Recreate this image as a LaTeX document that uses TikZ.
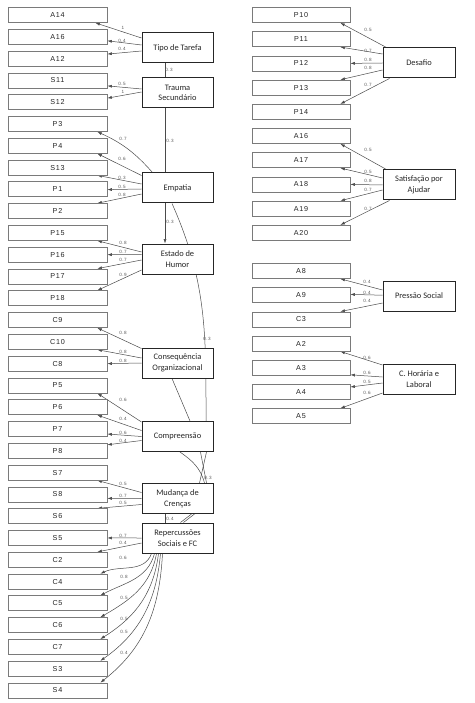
\documentclass[tikz,border=0pt]{standalone}
\usepackage{fontspec}
\setmainfont{Carlito}
\newfontfamily\indfont[LetterSpace=10]{Liberation Sans}
\newfontfamily\labfont[LetterSpace=12]{Liberation Sans}
\usetikzlibrary{arrows.meta,calc}
\pgfdeclarelayer{back}
\pgfdeclarelayer{wires}
\pgfsetlayers{back,wires,main}
\definecolor{boxgray}{HTML}{7A7A7A}
\definecolor{linegray}{HTML}{4A4A4A}
\definecolor{txtgray}{HTML}{262626}
\definecolor{labgray}{HTML}{585858}
\tikzset{
  ind/.style={draw=boxgray, line width=0.7pt, fill=white, minimum width=99pt, minimum height=15pt, inner sep=0pt, font=\indfont\fontsize{7.2}{8}\selectfont, text=txtgray},
  indr/.style={ind, minimum width=98pt},
  lat/.style={draw=black!85, line width=1pt, fill=white, minimum width=71pt, minimum height=30pt, inner sep=0pt, align=center, font=\fontsize{8.4}{10.6}\selectfont, text=black!85},
  latr/.style={lat, minimum width=72pt},
  ar/.style={draw=linegray, line width=0.5pt, -{Latex[length=4.5pt,width=3pt]}},
  ln/.style={draw=linegray, line width=0.5pt},
  lbl/.style={font=\labfont\fontsize{4.6}{5}\selectfont, text=labgray, inner sep=0pt}
}
\begin{document}
\begin{tikzpicture}[x=1pt,y=-1pt]
\begin{pgfonlayer}{back}
\fill[white] (0,0) rectangle (474,703);
\end{pgfonlayer}
\useasboundingbox (0,0) rectangle (474,703);
% left indicators
\foreach \n [count=\i from 0] in {A14,A16,A12,S11,S12,P3,P4,S13,P1,P2,P15,P16,P17,P18,C9,C10,C8,P5,P6,P7,P8,S7,S8,S6,S5,C2,C4,C5,C6,C7,S3,S4}
  \node[ind] (L\n) at (57.5,{15+21.79*\i}) {\n};
% right indicators
\foreach \n [count=\i from 0] in {P10,P11,P12,P13,P14,A16,A17,A18,A19,A20}
  \node[indr] (R\n) at (301,{15+24.2*\i}) {\n};
\foreach \n [count=\i from 0] in {A8,A9,C3,A2,A3,A4,A5}
  \node[indr] (R\n) at (301,{271+24.2*\i}) {\n};
% latent boxes
\node[lat] (T) at (177.5,48) {Tipo de Tarefa};
\node[lat] (Tr) at (177.5,93) {Trauma\\Secundário};
\node[lat] (E) at (177.5,188) {Empatia};
\node[lat] (H) at (177.5,259) {Estado de\\Humor};
\node[lat] (CO) at (177.5,363) {Consequência\\Organizacional};
\node[lat] (CP) at (177.5,436.5) {Compreensão};
\node[lat] (M) at (177.5,498.5) {Mudança de\\Crenças};
\node[lat] (R) at (177.5,538) {Repercussões\\Sociais e FC};
\node[latr] (D) at (419,63) {Desafio};
\node[latr] (SA) at (419,185) {Satisfação por\\Ajudar};
\node[latr] (PS) at (419,296) {Pressão Social};
\node[latr] (CH) at (419,379) {C. Horária e\\Laboral};
\begin{pgfonlayer}{wires}
% Tipo de Tarefa
\draw[ar] ([yshift=10pt]T.west) -- ([xshift=-12pt]LA14.south east);
\draw[ar] ([yshift=3pt]T.west) -- ([yshift=-4pt]LA16.east);
\draw[ar] ([yshift=-3pt]T.west) -- ([yshift=4.5pt]LA12.east);
% Trauma
\draw[ar] ([yshift=4pt]Tr.west) -- ([yshift=-5.5pt]LS11.east);
\draw[ar] ([yshift=1pt]Tr.west) -- ([yshift=4pt]LS12.east);
% Empatia
\draw[ar] ([xshift=11pt]E.north west) to[bend right=12] ([xshift=-10pt]LP3.south east);
\draw[ar] ([yshift=-3pt]E.north west) -- ([xshift=-10pt]LP4.south east);
\draw[ar] ([yshift=4pt]E.west) -- ([xshift=-10pt]LS13.south east);
\draw[ar] ([yshift=-1pt]E.west) -- ([yshift=-0.3pt]LP1.east);
\draw[ar] ([yshift=-6pt]E.west) -- ([xshift=-10pt]LP2.north east);
% Estado de Humor
\draw[ar] ([yshift=7pt]H.west) -- ([xshift=-10pt]LP15.south east);
\draw[ar] ([yshift=4.5pt]H.west) -- (LP16.east);
\draw[ar] ([yshift=-1pt]H.west) -- ([xshift=-10pt]LP17.north east);
\draw[ar] ([yshift=-11pt]H.west) -- ([xshift=-10pt]LP18.north east);
% Consequencia
\draw[ar] ([yshift=-1pt]CO.north west) -- ([xshift=-10pt]LC9.south east);
\draw[ar] ([yshift=5pt]CO.west) -- ([xshift=-10pt]LC10.south east);
\draw[ar] (CO.west) -- (LC8.east);
% Compreensao
\draw[ar] ([yshift=-1pt]CP.north west) -- ([xshift=-10pt]LP5.south east);
\draw[ar] ([yshift=6pt]CP.west) -- ([xshift=-10pt]LP6.south east);
\draw[ar] ([yshift=0pt]CP.west) -- ([yshift=-5pt]LP7.east);
\draw[ar] ([yshift=-4pt]CP.west) -- ([yshift=6pt]LP8.east);
% Mudanca
\draw[ar] ([yshift=6pt]M.west) -- ([xshift=-10pt]LS7.south east);
\draw[ar] ([yshift=0pt]M.west) -- ([yshift=-4pt]LS8.east);
\draw[ar] ([yshift=-6pt]M.west) -- ([xshift=-10pt]LS6.north east);
% Repercussoes
\draw[ar] (R.west) -- (LS5.east);
\draw[ar] ([yshift=-5pt]R.west) -- ([xshift=-10pt]LC2.north east);
\draw[ar] ([xshift=10pt]R.south west) to[out=-110,in=25] ([xshift=-7pt]LC4.north east);
\draw[ar] ([xshift=13pt]R.south west) to[out=-105,in=28] ([xshift=-7pt]LC5.north east);
\draw[ar] ([xshift=15pt]R.south west) to[out=-100,in=30] ([xshift=-7pt]LC6.north east);
\draw[ar] ([xshift=17pt]R.south west) to[out=-97,in=32] ([xshift=-7pt]LC7.north east);
\draw[ar] ([xshift=19pt]R.south west) to[out=-95,in=35] ([xshift=-7pt]LS3.north east);
\draw[ar] ([xshift=21pt]R.south west) to[out=-93,in=38] ([xshift=-7pt]LS4.north east);
% Desafio
\draw[ar] ([xshift=4pt]D.north west) -- ([xshift=-10pt]RP10.south east);
\draw[ar] ([yshift=9pt]D.west) -- ([xshift=-10pt]RP11.south east);
\draw[ar] (D.west) -- (RP12.east);
\draw[ar] ([yshift=-7pt]D.west) -- ([xshift=-10pt]RP13.north east);
\draw[ar] ([xshift=7pt]D.south west) -- ([xshift=-10pt]RP14.north east);
% Satisfacao
\draw[ar] ([xshift=4pt]SA.north west) -- ([xshift=-10pt]RA16.south east);
\draw[ar] ([yshift=7pt]SA.west) -- ([xshift=-10pt]RA17.south east);
\draw[ar] (SA.west) -- (RA18.east);
\draw[ar] ([yshift=-5pt]SA.west) -- ([xshift=-10pt]RA19.north east);
\draw[ar] ([xshift=7pt]SA.south west) -- ([xshift=-10pt]RA20.north east);
% Pressao Social
\draw[ar] ([yshift=6pt]PS.west) -- ([xshift=-10pt]RA8.south east);
\draw[ar] ([yshift=0.8pt]PS.west) -- ([yshift=0.8pt]RA9.east);
\draw[ar] ([yshift=-7pt]PS.west) -- ([xshift=-10pt]RC3.north east);
% C. Horaria
\draw[ar] ([yshift=14pt]CH.west) -- ([xshift=-10pt]RA2.south east);
\draw[ar] ([yshift=2pt]CH.west) -- ([yshift=-7pt]RA3.east);
\draw[ar] ([yshift=-4pt]CH.west) -- ([yshift=5pt]RA4.east);
\draw[ar] ([yshift=-14pt]CH.west) -- ([xshift=-10pt]RA5.north east);
% latent-to-latent
\draw[ln] ([xshift=-12.5pt]T.south) -- ([xshift=-12.5pt]Tr.north);
\draw[ln] ([xshift=-12.5pt]Tr.south) -- ([xshift=-12.5pt]E.north);
\draw[ar] ([xshift=-12.5pt]E.south) -- ([xshift=-12.5pt]H.north);
\draw[ln] ([xshift=-5.5pt]E.south) to[out=-66,in=90] ([xshift=28.5pt]CP.north);
\draw[ln] ([xshift=-5.5pt]CO.south) -- ([xshift=12.5pt]CP.north);
\draw[ln] ([xshift=2.5pt]CP.south) to[out=-35,in=105] ([xshift=27pt]M.north);
\draw[ln] ([xshift=23pt]CP.south) -- ([xshift=29pt]M.north);
\draw[ln] ([xshift=29pt]CP.south) -- ([xshift=22pt]M.north);
\draw[ln] ([xshift=-12.5pt]M.south) -- ([xshift=-12.5pt]R.north);
\draw[ln] ([xshift=14pt]M.south) -- ([xshift=3pt]R.north);
\draw[ln] ([xshift=17pt]M.south) -- ([xshift=6pt]R.north);
\end{pgfonlayer}
% labels
\foreach \x/\y/\t [count=\k] in {
  123/28/1, 122/41/0.4, 122/49/0.4, 122/84/0.5, 123/92/1,
  123/139/0.7, 122/159/0.6, 122/178/0.3, 122/187/0.5, 122/195/0.8,
  123/243/0.8, 123/252/0.7, 123/260/0.7, 123/275/0.9,
  123/333/0.8, 123/352/0.8, 123/361/0.8,
  123/400/0.6, 123/419/0.4, 123/433/0.6, 123/441/0.4,
  123/484/0.5, 123/496/0.7, 123/503/0.5,
  123/536/0.7, 123/543/0.4, 123/558/0.6, 124/577/0.8, 124/598/0.5, 124/619/0.5, 124/632/0.5, 124/653/0.4,
  169/70/0.3, 170/141/0.3, 170/222/0.3, 207/339/0.3, 208/478/0.3, 170/519/0.4,
  368/30/0.5, 368/51/0.7, 368/60/0.8, 368/68/0.8, 368/85/0.7,
  368/150/0.5, 368/172/0.5, 368/181/0.8, 368/190/0.7, 368/209/0.7,
  367/282/0.4, 367/293/0.4, 367/301/0.4,
  367/358/0.6, 367/373/0.6, 367/382/0.5, 367/393/0.6}
  \node[lbl] (lb\k) at (\x,\y) {\t};
\end{tikzpicture}
\end{document}
